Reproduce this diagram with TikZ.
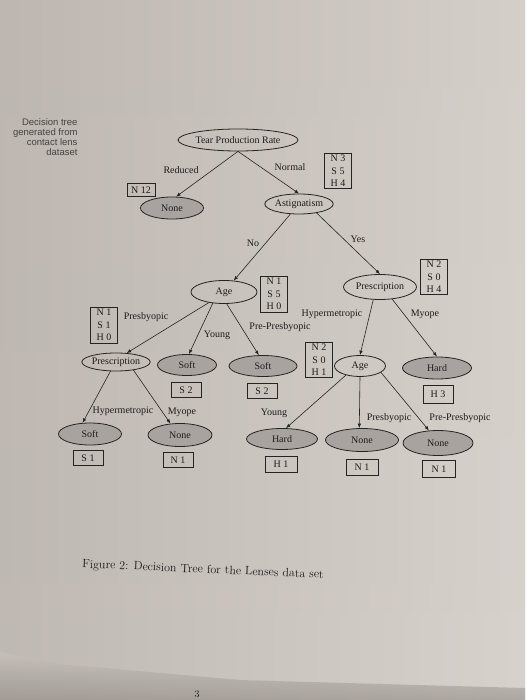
\documentclass[tikz,border=0pt]{standalone}
\usepackage{fontspec}
\newfontfamily\treefont{Liberation Serif}
\newfontfamily\notefont{Liberation Sans}
\usetikzlibrary{shapes.geometric,arrows.meta}
\definecolor{papertop}{HTML}{C8C1BC}
\definecolor{papermid}{HTML}{D9D5D1}
\definecolor{paperbot}{HTML}{CBC5C0}
\definecolor{sideleft}{HTML}{A9A29D}
\definecolor{sideright}{HTML}{EEEAE4}
\definecolor{shadowc}{HTML}{857E7A}
\definecolor{linec}{HTML}{262423}
\definecolor{inkc}{HTML}{1E1C1B}
\definecolor{leafc}{HTML}{A8A39F}
\definecolor{notec}{HTML}{454341}
\begin{document}
\begin{tikzpicture}[x=1pt,y=-1pt,
  every node/.style={font=\treefont\fontsize{10}{12}\selectfont, text=inkc},
  dec/.style={ellipse, draw=linec, line width=0.8pt, inner sep=0pt},
  leaf/.style={dec, fill=leafc},
  cnt/.style={draw=linec, line width=0.7pt, inner sep=2pt, align=center, minimum width=27pt, font=\treefont\fontsize{10}{12.5}\selectfont},
  cnt1/.style={draw=linec, line width=0.7pt, inner sep=1pt, minimum width=30pt, minimum height=15pt},
  lbl/.style={inner sep=0pt},
  edge/.style={draw=linec, line width=0.6pt, -{Latex[length=4.5pt,width=3.5pt]}}
]
\useasboundingbox (0,0) rectangle (525,700);
% paper background
\shade[top color=papertop, middle color=papermid, bottom color=paperbot] (0,0) rectangle (525,700);
\shade[left color=sideleft, right color=sideright, fill opacity=0.35] (0,0) rectangle (525,700);
\shade[top color=paperbot, bottom color=shadowc, fill opacity=0.5] (0,652) -- (60,664) -- (240,680) -- (525,688) -- (525,700) -- (0,700) -- cycle;

% side note
\node[font=\notefont\fontsize{9.5}{10}\selectfont, align=right, text=notec, anchor=east] (note) at (81,137) {Decision tree\\generated from\\contact lens\\dataset};

% decision nodes
\node[dec, minimum width=108pt, minimum height=22pt] (tpr) at (238,140) {Tear Production Rate};
\node[leaf, minimum width=63pt, minimum height=22pt] (none1) at (172,208) {None};
\node[dec, minimum width=67pt, minimum height=20pt] (astig) at (299,204) {Astignatism};
\node[cnt1, minimum width=28pt, minimum height=13pt] (n12) at (141,190) {N 12};
\node[cnt] (b1) at (338,171) {N 3\\S 5\\H 4};

\node[dec, minimum width=66pt, minimum height=23pt] (age1) at (224,292) {Age};
\node[cnt] (b2) at (274,294) {N 1\\S 5\\H 0};
\node[dec, minimum width=73pt, minimum height=25pt] (presc2) at (380,287) {Prescription};
\node[cnt] (b3) at (434,277) {N 2\\S 0\\H 4};
\node[cnt] (b4) at (104,325) {N 1\\S 1\\H 0};

\node[dec, minimum width=62pt, minimum height=18pt] (presc1) at (116,362) {Prescription};
\node[leaf, minimum width=59pt, minimum height=21pt] (soft1) at (187,365) {Soft};
\node[leaf, minimum width=68pt, minimum height=21pt] (soft2) at (263,366) {Soft};
\node[cnt1] (s2a) at (186,390) {S 2};
\node[cnt1] (s2b) at (262,391) {S 2};
\node[cnt] (b5) at (319,360) {N 2\\S 0\\H 1};
\node[dec, minimum width=51pt, minimum height=21pt] (age2) at (360,366) {Age};
\node[leaf, minimum width=69pt, minimum height=22pt] (hard1) at (437,368) {Hard};
\node[cnt1, minimum height=18pt] (h3) at (438,394) {H 3};

\node[leaf, minimum width=63pt, minimum height=22pt] (soft3) at (90,434) {Soft};
\node[leaf, minimum width=64pt, minimum height=23pt] (none2) at (180,435) {None};
\node[cnt1] (s1) at (88,458) {S 1};
\node[cnt1] (n1a) at (178,460) {N 1};
\node[leaf, minimum width=71pt, minimum height=21pt] (hard2) at (282,439) {Hard};
\node[leaf, minimum width=73pt, minimum height=23pt] (none3) at (362,440) {None};
\node[leaf, minimum width=70pt, minimum height=25pt] (none4) at (438,443) {None};
\node[cnt1, minimum width=32pt, minimum height=16pt] (h1) at (281,464) {H 1};
\node[cnt1, minimum width=32pt, minimum height=16pt] (n1b) at (362,467) {N 1};
\node[cnt1, minimum width=33pt, minimum height=17pt] (n1c) at (439,469) {N 1};

% edges
\draw[edge] (tpr.south) -- (none1.70);
\draw[edge] (tpr.south) -- (astig.north);
\draw[edge] (astig) -- (age1);
\draw[edge] (astig.-27) -- (presc2.north);
\draw[edge] (age1.-145) -- (presc1.40);
\draw[edge] (age1.-135) -- (soft1.80);
\draw[edge] (age1.-77) -- (soft2.111);
\draw[edge] (presc2.-118) -- (age2.north);
\draw[edge] (presc2.-45) -- (hard1.north);
\draw[edge] (presc1.-121) -- (soft3.124);
\draw[edge] (presc1.-25) -- (none2.130);
\draw[edge] (age2.-147) -- (hard2.70);
\draw[edge] (age2.south) -- (none3.103);
\draw[edge] (age2.-17) -- (none4.126);

% edge labels
\node[lbl] (lred) at (181,170) {Reduced};
\node[lbl] (lnor) at (290,167) {Normal};
\node[lbl] (lno) at (253,243) {No};
\node[lbl] (lyes) at (358,239) {Yes};
\node[lbl] (lpres1) at (146,317) {Presbyopic};
\node[lbl] (lyoung1) at (217,335) {Young};
\node[lbl] (lpre1) at (280,327) {Pre-Presbyopic};
\node[lbl] (lhyp1) at (332,314) {Hypermetropic};
\node[lbl] (lmyo1) at (425,314) {Myope};
\node[lbl] (lhyp2) at (123,411) {Hypermetropic};
\node[lbl] (lmyo2) at (182,412) {Myope};
\node[lbl] (lyoung2) at (274,413) {Young};
\node[lbl] (lpres2) at (389,418) {Presbyopic};
\node[lbl] (lpre2) at (460,418) {Pre-Presbyopic};

% caption and page number
\node[font=\rmfamily\fontsize{12}{14}\selectfont, rotate=-2.5] (cap) at (203,570) {Figure 2: Decision Tree for the Lenses data set};
\node[font=\rmfamily\fontsize{10}{12}\selectfont] (pg) at (197,694) {3};
\end{tikzpicture}
\end{document}
